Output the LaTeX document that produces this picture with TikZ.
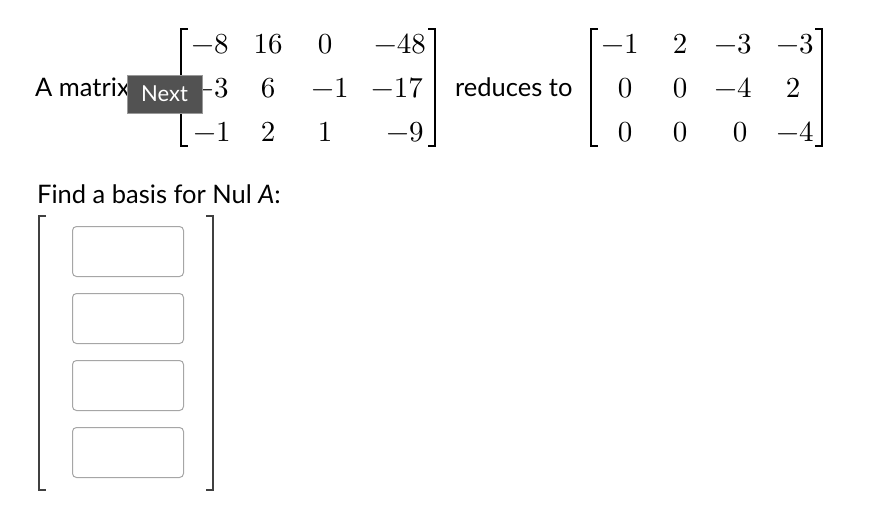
\documentclass[tikz,border=0pt]{standalone}
\usepackage{fontspec}
\setsansfont{Lato}
\newfontfamily\numf{lmroman10-regular}[Extension=.otf]
\begin{document}
\begin{tikzpicture}[x=1pt,y=-1pt,
  txt/.style={font=\sffamily\fontsize{25.5}{28}\selectfont,anchor=base west,inner sep=0},
  num/.style={font=\numf\fontsize{29}{32}\selectfont,anchor=base,inner sep=0},
  brk/.style={line width=2.2pt},
  inbox/.style={draw=gray!70,rounded corners=4pt,line width=1pt,fill=white}]
\useasboundingbox (0,0) rectangle (888,528);
% left matrix
\draw[brk] (188,29)--(181,29)--(181,146)--(188,146);
\draw[brk] (428,29)--(435,29)--(435,146)--(428,146);
\foreach \v/\x/\y/\n in {−8/210/53/a1,16/268/53/a2,0/325/53/a3,−48/400/53/a4,
  −3/210/97/b1,6/268/97/b2,−1/330/97/b3,−17/397/97/b4,
  −1/212/141/c1,2/268/141/c2,1/325/141/c3,−9/405/141/c4}
  \node[num] (L\n) at (\x,\y) {\v};
% right matrix
\draw[brk] (598,29)--(591,29)--(591,146)--(598,146);
\draw[brk] (815,29)--(822,29)--(822,146)--(815,146);
\foreach \v/\x/\y/\n in {−1/620/53/a1,2/680/53/a2,−3/733/53/a3,−3/795/53/a4,
  0/625/97/b1,0/680/97/b2,−4/733/97/b3,2/793/97/b4,
  0/625/141/c1,0/680/141/c2,0/740/141/c3,−4/795/141/c4}
  \node[num] (R\n) at (\x,\y) {\v};
\node[txt] (am) at (35,96) {A matrix};
\node[txt] (rt) at (455,96) {reduces to};
\node[fill=black!68,draw=black!40,minimum width=75,minimum height=38,inner sep=0,
  font=\sffamily\fontsize{22}{24}\selectfont,text=white] (next) at (164.5,94) {Next};
\node[txt] (find) at (37,203) {Find a basis for Nul \textit{A}:};
% vector bracket
\draw[line width=1.2pt,black!75] (46,216)--(39,216)--(39,490)--(46,490);
\draw[line width=1.2pt,black!75] (206,216)--(213,216)--(213,490)--(206,490);
\foreach \i/\y in {1/226,2/293,3/360,4/427}
  \node[inbox,minimum width=111,minimum height=50,anchor=north west] (box\i) at (72,\y) {};
\end{tikzpicture}
\end{document}
